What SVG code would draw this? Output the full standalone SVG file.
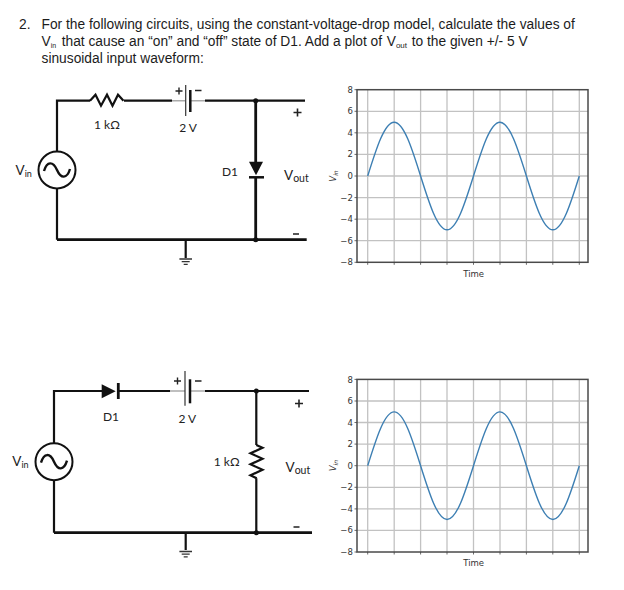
<svg xmlns="http://www.w3.org/2000/svg" xmlns:xlink="http://www.w3.org/1999/xlink" width="624" height="590" viewBox="0 0 624 590">
<style>
.w{fill:none;stroke:#111;stroke-width:2.2}
.wb{fill:none;stroke:#111;stroke-width:2.8}
.t{font-family:"Liberation Sans",Arial,sans-serif;font-size:13.77px;fill:#1c1c1c}
.c{font-family:Lato,"Liberation Sans",sans-serif;font-size:12px;fill:#222}
.v{font-family:Lato,"Liberation Sans",sans-serif;font-size:13.5px;fill:#222}
.m{text-anchor:middle}
.tick{font-family:"DejaVu Sans",sans-serif;font-size:8.5px;fill:#333;text-anchor:end}
.xl{font-family:"DejaVu Sans",sans-serif;font-size:8.5px;fill:#333;text-anchor:middle}
.yl{font-family:"DejaVu Sans",sans-serif;font-size:8.5px;font-style:italic;fill:#333;text-anchor:middle}
.g{stroke:#c2c2c2;stroke-width:1.3;fill:none}
.s{fill:none;stroke:#3d7fb3;stroke-width:1.4}
.a{fill:none;stroke:#4a4a4a;stroke-width:1.5}
.k{stroke:#444;stroke-width:.8;fill:none}
</style>
<defs>
<path id="sine" class="s" d="M0 0c8.63-27.56 16.88-53.8 26.45-53.8c9.57 0 17.82 26.24 26.45 53.8c8.63 27.56 16.88 53.8 26.45 53.8c9.57 0 17.82-26.24 26.45-53.8c8.63-27.56 16.88-53.8 26.45-53.8c9.57 0 17.82 26.24 26.45 53.8c8.63 27.56 16.88 53.8 26.45 53.8c9.57 0 17.82-26.24 26.45-53.8"/>
<g id="src"><circle r="18.5" fill="#fff" stroke="#111" stroke-width="2"/><path d="M-13 1c3-10 9-10 13-1s10 9 13-1" fill="none" stroke="#111" stroke-width="2.4"/></g>
<g id="gnd"><path d="M-6.3 0h12.6M-4 2.7h8M-2 5.4h4" stroke="#333" stroke-width="1.3" fill="none"/></g>
<g id="plot">
<path class="g" d="M367.7 0v172.6M394.2 0v172.6M420.6 0v172.6M447 0v172.6M473.5 0v172.6M500 0v172.6M526.4 0v172.6M552.8 0v172.6M579.3 0v172.6M357 21.6H588M357 43.1H588M357 64.7H588M357 86.3H588M357 107.9H588M357 129.5H588M357 151H588"/>
<rect class="a" x="357" y="0" width="231" height="172.6"/>
<path class="k" d="M367.7 172.6v2.5M394.2 172.6v2.5M420.6 172.6v2.5M447 172.6v2.5M473.5 172.6v2.5M500 172.6v2.5M526.4 172.6v2.5M552.8 172.6v2.5M579.3 172.6v2.5M354.5 0h2.5M354.5 21.6h2.5M354.5 43.1h2.5M354.5 64.7h2.5M354.5 86.3h2.5M354.5 107.9h2.5M354.5 129.5h2.5M354.5 151h2.5M354.5 172.6h2.5"/>
<text class="tick" x="352.8" y="3.1">8</text><text class="tick" x="352.8" y="24.7">6</text><text class="tick" x="352.8" y="46.2">4</text><text class="tick" x="352.8" y="67.8">2</text><text class="tick" x="352.8" y="89.4">0</text><text class="tick" x="352.8" y="111">−2</text><text class="tick" x="352.8" y="132.6">−4</text><text class="tick" x="352.8" y="154.1">−6</text><text class="tick" x="352.8" y="175.7">−8</text>
<use xlink:href="#sine" href="#sine" x="367.7" y="86.3"/>
<text class="xl" x="473.7" y="187">Time</text>
<text class="yl" transform="translate(336 86.3) rotate(-90)">V<tspan font-size="6" dy="1.5">in</tspan></text>
</g>
</defs>
<rect width="624" height="590" fill="#fff"/>
<g id="question">
<text class="t" x="19" y="29.3">2.</text>
<text class="t" x="41.5" y="29.3">For the following circuits, using the constant-voltage-drop model, calculate the values of</text>
<text class="t" x="41.5" y="46.3">V<tspan font-size="7" dy="2">in</tspan><tspan x="61.7" dy="-2">that cause an “on” and “off” state of D1. Add a plot of </tspan><tspan x="386.7">V</tspan><tspan font-size="8" dy="2">out</tspan><tspan x="411.7" dy="-2">to the given +/- 5 V</tspan></text>
<text class="t" x="41.5" y="62.8">sinusoidal input waveform:</text>
</g>
<g id="connectors">
<path class="w" d="M57 151.5V100.7H90M124 100.7H172M205 100.7H305M57 188.5V239.7"/>
<path d="M172 100.7H185M191 100.7H205" stroke="#aaa" stroke-width="1.5" fill="none"/>
<path class="wb" d="M255.7 100.7V162M255.7 177V239.7M57 239.7H306.7"/>
<path class="w" d="M185.7 240V258"/>
<path class="w" d="M54 443V391H102M118 391H170M205 391H309M54 480V532.7"/>
<path d="M170 391H185M191 391H205" stroke="#aaa" stroke-width="1.5" fill="none"/>
<path class="w" d="M256.3 391V445M256.3 478.3V532.7"/>
<path class="wb" d="M54 532.7H312"/>
<path class="w" d="M185.7 533V550"/>
</g>
<g id="circuit1-source"><use xlink:href="#src" href="#src" x="57" y="170"/><text class="v" x="15.5" y="175">V<tspan font-size="9" dy="2">in</tspan></text></g>
<g id="circuit1-resistor"><path class="w" d="M90 100.7l5.5-6 5.5 11 6-11 5.5 11 5.5-11 5.5 6"/><text class="c m" x="107" y="129">1 kΩ</text></g>
<g id="circuit1-battery"><path d="M185.7 85V116" stroke="#333" stroke-width="1.2"/><path d="M190.3 90V112" stroke="#111" stroke-width="2.5"/><text class="c m" x="188" y="131.5">2 V</text><path d="M175.5 91h7M179 87.5v7M195 90.5h6.5" stroke="#222" stroke-width="1.4" fill="none"/></g>
<g id="circuit1-diode"><path d="M249 161.7h14l-7 13.5z" fill="#111"/><path d="M249 177.3h15" stroke="#111" stroke-width="2.5"/><text class="c m" x="230" y="175.5">D1</text></g>
<g id="circuit1-node"><circle cx="255.7" cy="100.7" r="2.5" fill="#111"/><circle cx="255.7" cy="239.7" r="2.5" fill="#111"/></g>
<g id="circuit1-ground"><use xlink:href="#gnd" href="#gnd" x="185.7" y="259"/></g>
<g id="circuit1-output"><text class="v" x="284" y="180">V<tspan font-size="10.5" dy="2">out</tspan></text><path d="M293.5 112.5h8M297.5 108.5v8M293 234h6" stroke="#222" stroke-width="1.6" fill="none"/></g>
<g id="plot1"><use xlink:href="#plot" href="#plot" x="0" y="89.7"/></g>
<g id="circuit2-source"><use xlink:href="#src" href="#src" x="54" y="461.7"/><text class="v" x="12.3" y="466">V<tspan font-size="9" dy="2">in</tspan></text></g>
<g id="circuit2-diode"><path d="M101.7 384.3v14l14-7z" fill="#111"/><path d="M118.3 383v16" stroke="#111" stroke-width="2.8"/><text class="c m" x="111" y="421">D1</text></g>
<g id="circuit2-battery"><path d="M185 371V405.7" stroke="#333" stroke-width="1.2"/><path d="M190 379.3V403.3" stroke="#111" stroke-width="2.5"/><text class="c m" x="187.3" y="422.5">2 V</text><path d="M174 381h7M177.5 377.5v7M195 381h6.5" stroke="#222" stroke-width="1.4" fill="none"/></g>
<g id="circuit2-resistor"><path class="w" d="M256.3 445l6.2 2.8-12 5.5 12 5.5-12 5.500 12 5.500-12 5.500 6.200 3"/><text class="c m" x="226.7" y="466">1 kΩ</text></g>
<g id="circuit2-node"><circle cx="256.3" cy="391" r="2.5" fill="#111"/><circle cx="256.3" cy="532.7" r="2.5" fill="#111"/></g>
<g id="circuit2-ground"><use xlink:href="#gnd" href="#gnd" x="185.7" y="551.5"/></g>
<g id="circuit2-output"><text class="v" x="285.5" y="472">V<tspan font-size="10.5" dy="2">out</tspan></text><path d="M295 403.5h8M299 399.5v8M293.5 527h6" stroke="#222" stroke-width="1.6" fill="none"/></g>
<g id="plot2"><use xlink:href="#plot" href="#plot" x="0" y="379.4"/></g>
</svg>
